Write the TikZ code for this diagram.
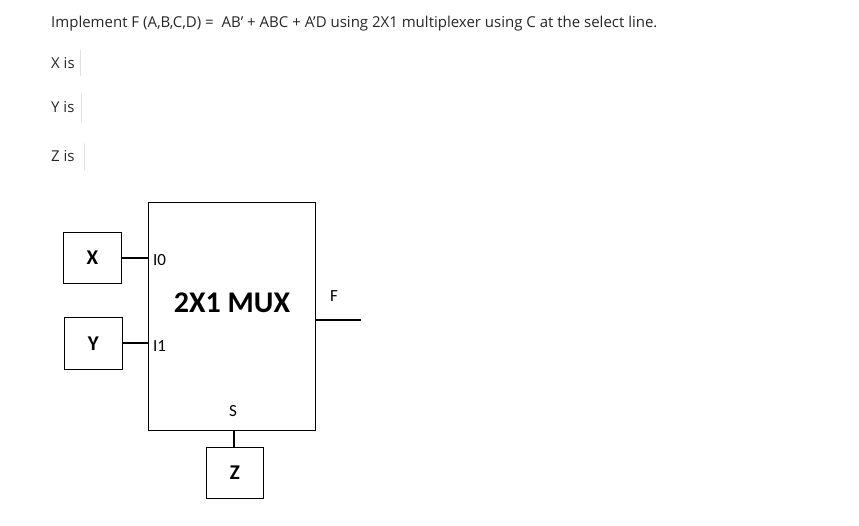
\documentclass[tikz,border=0pt]{standalone}
\usepackage{fontspec}
\setmainfont{Open Sans}
\newfontfamily\calfont{Carlito}
\begin{document}
\begin{tikzpicture}[x=1pt,y=-1pt,
  box/.style={draw,line width=0.8pt,anchor=north west,inner sep=0pt},
  wire/.style={line width=2.5pt},
  txt/.style={inner sep=0pt,font=\fontsize{15}{18}\selectfont,text=black!85},
  lbl/.style={inner sep=0pt,font=\calfont\fontsize{17}{20}\selectfont},
  big/.style={inner sep=0pt,font=\calfont\bfseries\fontsize{21}{24}\selectfont}]
\useasboundingbox (0,0) rectangle (859,526);
\node[txt,anchor=west] (title) at (51,24) {Implement F (A,B,C,D) =\ \ AB' + ABC + A'D using 2X1 multiplexer using C at the select line.};
\node[txt,anchor=west] (xi) at (51,63) {X is};
\node[txt,anchor=west] (yi) at (51,107) {Y is};
\node[txt,anchor=west] (zi) at (51,156) {Z is};
\draw[black!12] (80,50)--(80,76) (81,94)--(81,122) (84,143)--(84,170);
\node[box,minimum width=167pt,minimum height=228pt] (mux) at (148,202) {};
\node[box,minimum width=58pt,minimum height=51pt] (x) at (63,232) {};
\node[box,minimum width=58pt,minimum height=52pt] (y) at (64,317) {};
\node[box,minimum width=57pt,minimum height=51pt] (z) at (206,447) {};
\node[big] at (x.center) {X};
\node[big] at (y.center) {Y};
\node[big] at (z.center) {Z};
\node[big,font=\calfont\bfseries\fontsize{30}{34}\selectfont] (mt) at (232,303) {2X1 MUX};
\coordinate (i0) at (148,258);
\coordinate (i1) at (148,343);
\coordinate (fo) at (361,320);
\coordinate (s) at (234,430);
\draw[wire] (x.east|-i0) -- (i0);
\draw[wire] (y.east|-i1) -- (i1);
\draw[wire] (mux.east|-fo) -- (fo);
\draw[wire] (s) -- (s|-z.north);
\node[lbl,anchor=west] (l0) at (153,260) {I0};
\node[lbl,anchor=west] (l1) at (153,346) {I1};
\node[lbl] (lf) at (334,296) {F};
\node[lbl] (ls) at (233,411) {S};
\end{tikzpicture}
\end{document}
